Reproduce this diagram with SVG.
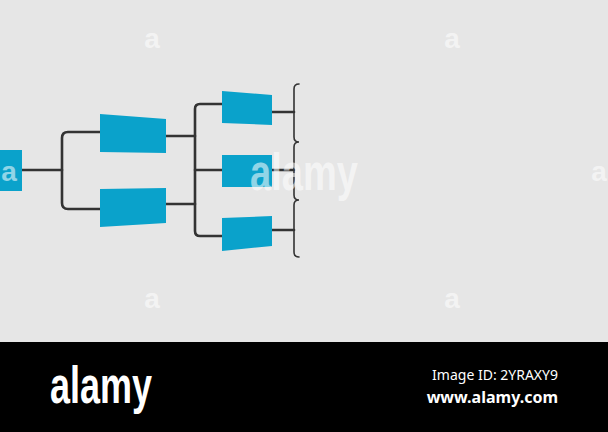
<svg xmlns="http://www.w3.org/2000/svg" width="608" height="432" viewBox="0 0 608 432">
<style>
.box{fill:#0aa2cb}
.ln{fill:none;stroke:#333;stroke-width:2.6;stroke-linejoin:round;stroke-linecap:round}
.br{fill:none;stroke:#333;stroke-width:1.6;stroke-linecap:round}
.wm{font-family:"Liberation Sans",Arial,sans-serif;font-weight:bold;fill:#fff;opacity:0.55}
</style>
<rect width="608" height="432" fill="#e6e6e6"/>
<g id="connectors">
<path class="ln" d="M22,170 H62"/>
<path class="ln" d="M100,132 H68 Q62,132 62,138 V203 Q62,209 68,209 H100"/>
<path class="ln" d="M166,136 H195"/>
<path class="ln" d="M166,204 H195"/>
<path class="ln" d="M222,104 H200 Q195,104 195,109 V170 H222"/>
<path class="ln" d="M195,170 V231 Q195,236 200,236 H222"/>
<path class="ln" d="M272,112 H294"/>
<path class="ln" d="M272,170 H294"/>
<path class="ln" d="M272,230 H294"/>
</g>
<g id="brace">
<path class="br" d="M299,84 Q294,84 294,89 V137 Q294,142 299,142 Q294,142 294,147 V195 Q294,200 299,200 Q294,200 294,205 V252 Q294,257 299,257"/>
</g>
<g id="node-root"><rect class="box" x="0" y="150" width="22" height="41"/></g>
<g id="node-top"><polygon class="box" points="100,114 166,119 166,153 100,152"/></g>
<g id="node-bottom"><polygon class="box" points="100,189 166,188 166,223 100,227"/></g>
<g id="node-r1"><polygon class="box" points="222,91 272,95 272,125 222,123"/></g>
<g id="node-r2"><rect class="box" x="222" y="155" width="50" height="32"/></g>
<g id="node-r3"><polygon class="box" points="222,218 272,216 272,246 222,251"/></g>
<g id="watermark">
<text class="wm" x="152" y="48" font-size="28" text-anchor="middle">a</text>
<text class="wm" x="452" y="48" font-size="28" text-anchor="middle">a</text>
<text class="wm" x="152" y="308" font-size="28" text-anchor="middle">a</text>
<text class="wm" x="452" y="308" font-size="28" text-anchor="middle">a</text>
<text class="wm" x="9" y="181" font-size="28" text-anchor="middle">a</text>
<text class="wm" x="599" y="181" font-size="28" text-anchor="middle">a</text>
<text class="wm" x="250" y="190" font-size="52" textLength="108" lengthAdjust="spacingAndGlyphs">alamy</text>
</g>
<g id="footer">
<rect x="0" y="342" width="608" height="90" fill="#000"/>
<text x="50" y="403" font-family="Liberation Sans,Arial,sans-serif" font-weight="bold" font-size="52" fill="#fff" textLength="102" lengthAdjust="spacingAndGlyphs">alamy</text>
<text x="558" y="380" font-family="Noto Sans,Open Sans,sans-serif" font-size="14" fill="#fff" text-anchor="end">Image ID: 2YRAXY9</text>
<text x="558" y="403" font-family="Noto Sans,Open Sans,sans-serif" font-weight="bold" font-size="16" fill="#fff" text-anchor="end">www.alamy.com</text>
</g>
</svg>
